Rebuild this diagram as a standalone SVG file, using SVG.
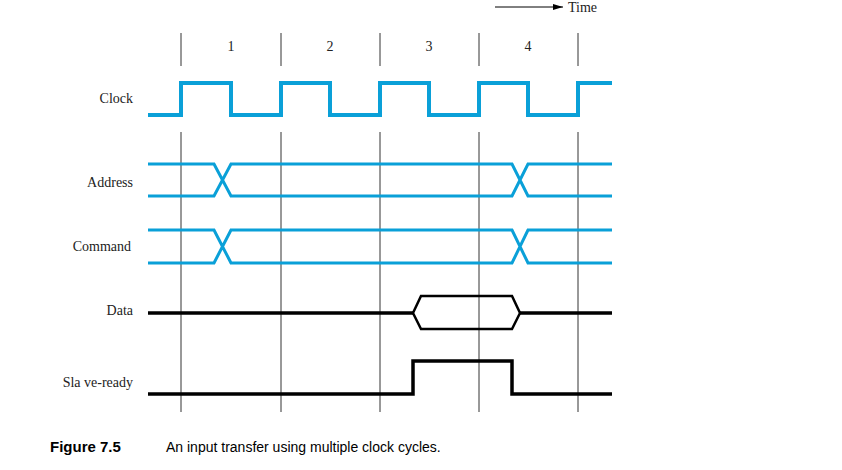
<svg xmlns="http://www.w3.org/2000/svg" width="842" height="470" viewBox="0 0 842 470">
<style>
.lbl{font-family:"Liberation Serif",serif;font-size:14px;fill:#222;text-anchor:end}
.num{font-family:"Liberation Serif",serif;font-size:14px;fill:#222;text-anchor:middle}
.grid{stroke:#333;stroke-width:1;fill:none}
.blue{stroke:#0aa0d8;stroke-width:3;fill:none}
.clk{stroke:#0aa0d8;stroke-width:4;fill:none}
.blk{stroke:#000;stroke-width:3.5;fill:none}
.hex{stroke:#000;stroke-width:2.5;fill:none}
</style>
<defs><marker id="ah" markerWidth="10" markerHeight="6" refX="10" refY="3" orient="auto"><path d="M0,0 L10,3 L0,6 z" fill="#000"/></marker></defs>
<g id="time"><line x1="495" y1="7" x2="563" y2="7" stroke="#000" stroke-width="1" marker-end="url(#ah)"/>
<text x="568" y="12" font-family="Liberation Serif,serif" font-size="14" fill="#222">Time</text></g>
<g id="grid">
<path class="grid" d="M181,33V66M281,33V66M380,33V66M479,33V66M578,33V66M181,132V412M281,132V412M380,132V412M479,132V412M578,132V412"/>
<text class="num" x="231" y="51">1</text><text class="num" x="330" y="51">2</text><text class="num" x="429" y="51">3</text><text class="num" x="528" y="51">4</text>
</g>
<g id="clock"><text class="lbl" x="133" y="103">Clock</text>
<path class="clk" d="M148,115H181V83H231V115H281V83H330V115H380V83H429V115H479V83H528V115H578V83H612"/></g>
<g id="address"><text class="lbl" x="133" y="187">Address</text>
<path class="blue" d="M148,164H214L231,196H512L528,164H612M148,196H214L231,164H512L528,196H612"/></g>
<g id="command"><text class="lbl" x="131" y="251">Command</text>
<path class="blue" d="M148,230H214L231,263H512L528,230H612M148,263H214L231,230H512L528,263H612"/></g>
<g id="data"><text class="lbl" x="133" y="315">Data</text>
<path class="blk" d="M148,313H413M520,313H612"/>
<path class="hex" d="M413,313L421,296H512L520,313L512,329H421Z"/></g>
<g id="slave"><text class="lbl" x="133" y="387">Sla ve-ready</text>
<path class="blk" d="M148,394H413V361H512V394H612"/></g>
<g id="caption"><text x="50" y="452" font-family="Liberation Sans,sans-serif" font-size="15" font-weight="bold" fill="#000">Figure 7.5</text>
<text x="166" y="452" font-family="Liberation Sans,sans-serif" font-size="14" fill="#000">An input transfer using multiple clock cycles.</text></g>
</svg>
